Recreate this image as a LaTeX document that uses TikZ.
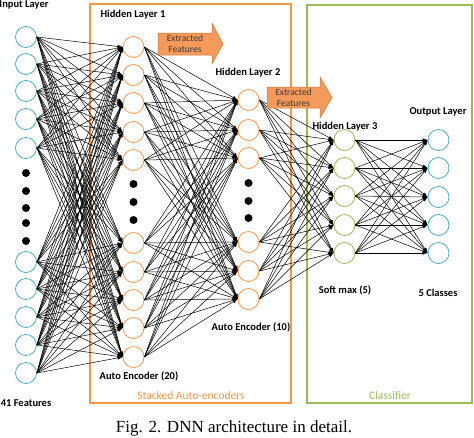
\documentclass[tikz,border=0pt]{standalone}
\usepackage{fontspec}
\setmainfont{Carlito}
\newfontfamily\capfont{Liberation Serif}
\usetikzlibrary{arrows.meta}
\definecolor{inblue}{HTML}{4BACC6}
\definecolor{encorange}{HTML}{F79646}
\definecolor{clsgreen}{HTML}{9BBB59}
\definecolor{featfill}{HTML}{F59A5A}
\definecolor{feattext}{HTML}{3A3A3A}

\begin{document}
\begin{tikzpicture}[x=1pt,y=-1pt,
	neuron/.style={circle,draw,line width=0.8pt,minimum size=21pt,inner sep=0pt},
	blob/.style={circle,fill=black,minimum size=8pt,inner sep=0pt},
	link/.style={draw=black,line width=0.5pt,-{Latex[length=5pt,width=3.5pt]}},
	lbl/.style={font=\bfseries\fontsize{10.5}{12}\selectfont,inner sep=0pt},
	boxlbl/.style={font=\fontsize{11.5}{13}\selectfont,inner sep=0pt},
	feat/.style={font=\fontsize{9.5}{11}\selectfont,text=feattext,align=center,inner sep=0pt}]
	\useasboundingbox (0,0) rectangle (474,437);
	% frames
	\draw [encorange,line width=1.4pt] (90,4) rectangle (291,403);
	\draw [clsgreen,line width=1.4pt] (307,5) rectangle (472,403);
	% layers
	\foreach \y [count=\i] in {37,64,91,119,148,262,289,317,345,373}
		\node [neuron,draw=inblue] (inp\i) at (26,\y) {};
	\foreach \y [count=\i] in {173,191,208,223,241}
		\node [blob] (dotin\i) at (26,\y) {};
	\foreach \y [count=\i] in {47,75,103,132,160,243,272,300,328,357}
		\node [neuron,draw=encorange] (hida\i) at (133.5,\y) {};
	\foreach \y [count=\i] in {184,202,220}
		\node [blob] (dota\i) at (133.5,\y) {};
	\foreach \y [count=\i] in {100,130,158,242,271,299}
		\node [neuron,draw=encorange] (hidb\i) at (248.5,\y) {};
	\foreach \y [count=\i] in {183,201,218}
		\node [blob] (dotb\i) at (248.5,\y) {};
	\foreach \y [count=\i] in {140,168,196,225,253}
		\node [neuron,draw=clsgreen] (hidc\i) at (344.5,\y) {};
	\foreach \y [count=\i] in {140,168,197,225,253}
		\node [neuron,draw=inblue] (outp\i) at (438.5,\y) {};
	% connections
	\foreach \i in {1,...,10}
		\foreach \j in {1,...,10}
			\draw [link] (inp\i.east) -- (hida\j.west);
	\foreach \i in {1,...,10}
		\foreach \j in {1,...,6}
			\draw [link] (hida\i.east) -- (hidb\j.west);
	\foreach \i in {1,...,6}
		\foreach \j in {1,...,5}
			\draw [link] (hidb\i.east) -- (hidc\j.west);
	\foreach \i in {1,...,5}
		\foreach \j in {1,...,5}
			\draw [link] (hidc\i.east) -- (outp\j.west);
	% extracted features arrows
	\draw [encorange!80!black,fill=featfill,line width=0.5pt] (158,33) -- (212,33) -- (212,23) -- (223,44) -- (212,64) -- (212,55) -- (158,55) -- cycle;
	\node [feat] (feata) at (185,44) {Extracted\\Features};
	\draw [encorange!80!black,fill=featfill,line width=0.5pt] (267,87) -- (320,87) -- (320,77) -- (332,97.5) -- (320,118) -- (320,108) -- (267,108) -- cycle;
	\node [feat] (featb) at (293.5,97.5) {Extracted\\Features};
	% labels
	\node [lbl] (inlbl) at (24,5) {Input Layer};
	\node [lbl] (hidalbl) at (133,15) {Hidden Layer 1};
	\node [lbl] (hidblbl) at (248,73) {Hidden Layer 2};
	\node [lbl] (hidclbl) at (345,127) {Hidden Layer 3};
	\node [lbl] (outlbl) at (438,112) {Output Layer};
	\node [lbl] (enca) at (139,376) {Auto Encoder (20)};
	\node [lbl] (encb) at (251,327) {Auto Encoder (10)};
	\node [lbl] (softlbl) at (345,290) {Soft max (5)};
	\node [lbl] (classlbl) at (438,293) {5 Classes};
	\node [lbl] (featlbl) at (26,403) {41 Features};
	\node [boxlbl,text=encorange] (stacklbl) at (191,396) {Stacked Auto-encoders};
	\node [boxlbl,text=clsgreen] (clslbl) at (390,396) {Classifier};
	\node [font=\capfont\fontsize{17}{19}\selectfont,inner sep=0pt] (caption) at (234,428) {Fig. 2. DNN architecture in detail.};
\end{tikzpicture}
\end{document}
